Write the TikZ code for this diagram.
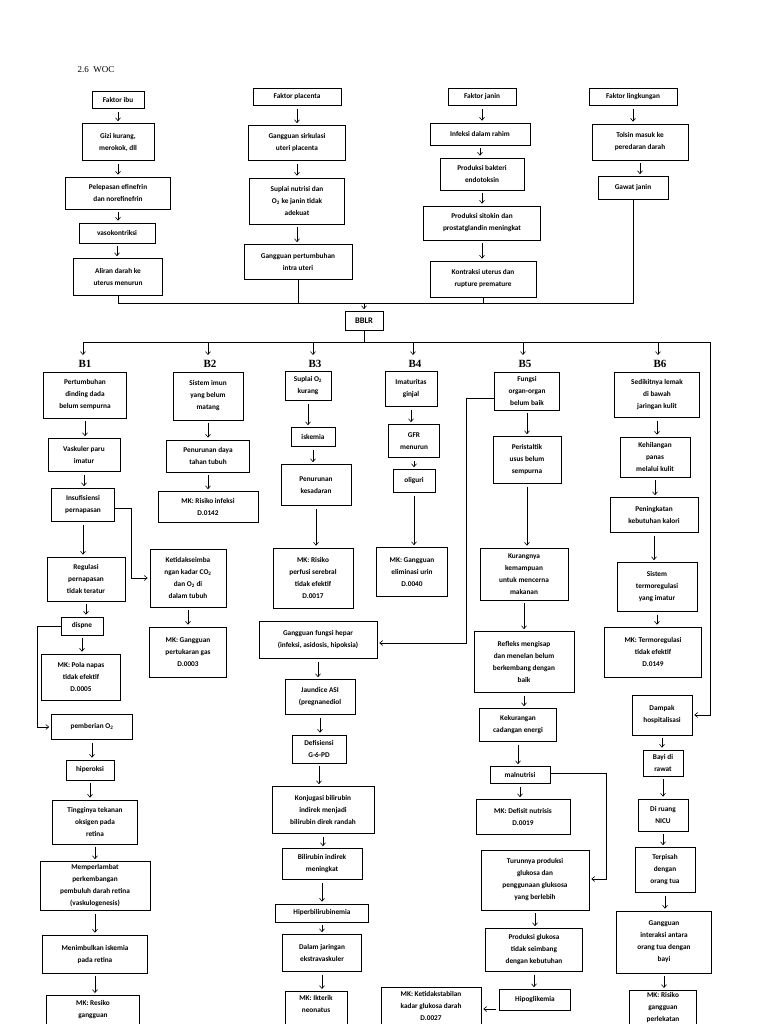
\documentclass[tikz,border=0pt]{standalone}
\usepackage{fontspec}
\setmainfont{Liberation Serif}
\newfontfamily\bxfont{Carlito}
\usetikzlibrary{arrows.meta}
\newcommand{\Bx}[6]{\node[box,minimum width=#4,minimum height=#5] (#1) at (#2,#3) {#6};}
\newcommand{\Ar}[2]{\draw[arr] (#1.south) -- (#1.south |- #2.north);}
\newcommand{\sub}[1]{\textsubscript{#1}}
\begin{document}
\begin{tikzpicture}[x=1pt,y=-1pt,
  box/.style={draw,line width=0.6pt,align=center,inner sep=1pt,font=\bxfont\bfseries\fontsize{7.3}{12}\selectfont},
  arr/.style={-{Straight Barb[length=3pt,width=5pt]},line width=0.6pt,shorten >=2pt,shorten <=3pt},
  ln/.style={line width=0.6pt},
  blab/.style={font=\bfseries\fontsize{11}{12}\selectfont}]
\useasboundingbox (0,0) rectangle (768,1024);
\fill[white] (0,0) rectangle (768,1024);
\node[font=\fontsize{9}{10}\selectfont] (woc) at (96,70) {2.6\ \ WOC};
% top row
\Bx{fi}{118}{100}{52}{17}{Faktor ibu}
\Bx{fp}{297}{97}{88}{17}{Faktor placenta}
\Bx{fj}{482}{97}{68}{17}{Faktor janin}
\Bx{fl}{633}{97}{88}{17}{Faktor lingkungan}
\Bx{a1}{118}{142}{72}{37}{Gizi kurang,\\merokok, dll}
\Bx{a2}{118}{193}{105}{32}{Pelepasan efinefrin\\dan norefinefrin}
\Bx{a3}{117}{233}{76}{20}{vasokontriksi}
\Bx{a4}{118}{277}{89}{37}{Aliran darah ke\\uterus menurun}
\Bx{p1}{297}{143}{97}{35}{Gangguan sirkulasi\\uteri placenta}
\Bx{p2}{297}{201}{95}{46}{Suplai nutrisi dan\\O\sub{2} ke janin tidak\\adekuat}
\Bx{p3}{298}{262}{108}{35}{Gangguan pertumbuhan\\intra uteri}
\Bx{j1}{480}{134}{100}{22}{Infeksi dalam rahim}
\Bx{j2}{482}{174}{84}{32}{Produksi bakteri\\endotoksin}
\Bx{j3}{482}{223}{117}{34}{Produksi sitokin dan\\prostatglandin meningkat}
\Bx{j4}{483}{279}{106}{36}{Kontraksi uterus dan\\rupture premature}
\Bx{l1}{640}{142}{96}{36}{Tolsin masuk ke\\peredaran darah}
\Bx{l2}{633}{188}{70}{23}{Gawat janin}
\foreach \u/\v in {fi/a1,a1/a2,a2/a3,a3/a4,fp/p1,p1/p2,p2/p3,fj/j1,j1/j2,j2/j3,j3/j4,fl/l1,l1/l2} {\Ar{\u}{\v}}
\Bx{bblr}{364}{321}{38}{19}{\fontsize{8.5}{10}\selectfont BBLR}
\coordinate (h1) at (118,303);
\coordinate (h2) at (633,303);
\draw[ln] (a4.south) -- (h1) -- (h2) -- (l2.south);
\draw[ln] (p3.south) -- (p3.south |- h1);
\draw[ln] (j4.south) -- (j4.south |- h1);
\draw[arr,shorten <=0pt] (bblr.north |- h1) -- (bblr.north);
\coordinate (g1) at (83,342);
\coordinate (g2) at (710,342);
\draw[ln] (bblr.south) -- (bblr.south |- g1);
\draw[ln] (g1) -- (g2);
\foreach \xx/\lab in {83/B1,208/B2,313/B3,413/B4,523/B5,658/B6} {
  \draw[arr,shorten <=0pt] (\xx,342) -- (\xx,357);
  \node[blab] (lab\lab) at (\xx+2,364) {\lab};
}
% B1
\Bx{b11}{85}{395}{83}{46}{Pertumbuhan\\dinding dada\\belum sempurna}
\Bx{b12}{84}{455}{72}{33}{Vaskuler paru\\imatur}
\Bx{b13}{83}{505}{63}{33}{Insufisiensi\\pernapasan}
\Bx{b14}{86}{579}{78}{44}{Regulasi\\pernapasan\\tidak teratur}
\Bx{b15}{82}{626}{42}{18}{dispne}
\Bx{b16}{81}{677}{79}{46}{MK: Pola napas\\tidak efektif\\D.0005}
\Bx{b17}{92}{727}{81}{25}{pemberian O\sub{2}}
\Bx{b18}{90}{770}{48}{20}{hiperoksi}
\Bx{b19}{95}{822}{85}{44}{Tingginya tekanan\\oksigen pada\\retina}
\Bx{b110}{95}{886}{110}{49}{Memperlambat\\perkembangan\\pembuluh darah retina\\(vaskulogenesis)}
\Bx{b111}{95}{954}{105}{38}{Menimbulkan iskemia\\pada retina}
\node[box,minimum width=93,minimum height=50,anchor=north,text depth=22pt] (b112) at (93,995) {MK: Resiko\\gangguan};
\foreach \u/\v in {b11/b12,b12/b13,b13/b14,b14/b15,b15/b16,b17/b18,b18/b19,b19/b110,b110/b111,b111/b112} {\Ar{\u}{\v}}
% B2
\Bx{b21}{208}{396}{70}{48}{Sistem imun\\yang belum\\matang}
\Bx{b22}{208}{456}{83}{32}{Penurunan daya\\tahan tubuh}
\Bx{b23}{208}{507}{100}{31}{MK: Risiko infeksi\\D.0142}
\Bx{b24}{188}{578}{76}{58}{Ketidakseimba\\ngan kadar CO\sub{2}\\dan O\sub{2} di\\dalam tubuh}
\Bx{b25}{188}{652}{77}{50}{MK: Gangguan\\pertukaran gas\\D.0003}
\foreach \u/\v in {b21/b22,b22/b23,b24/b25} {\Ar{\u}{\v}}
\coordinate (c1) at (131,508);
\draw[arr,shorten <=0pt] (b13.east |- c1) -- (c1) -- (131,578) -- (b24.west |- 0,578);
\coordinate (c2) at (37,626);
\draw[arr,shorten <=0pt] (b15.west) -- (c2) -- (37,727) -- (b17.west);
% B3
\Bx{b31}{308}{386}{46}{29}{Suplai O\sub{2}\\kurang}
\Bx{b32}{313}{437}{44}{19}{iskemia}
\Bx{b33}{316}{485}{70}{41}{Penurunan\\kesadaran}
\Bx{b34}{313}{578}{80}{60}{MK: Risiko\\perfusi serebral\\tidak efektif\\D.0017}
\Bx{b35}{318}{640}{118}{37}{Gangguan fungsi hepar\\(infeksi, asidosis, hipoksia)}
\Bx{b36}{320}{697}{70}{35}{Jaundice ASI\\(pregnanediol}
\Bx{b37}{319}{749}{54}{28}{Defisiensi\\G-6-PD}
\Bx{b38}{323}{810}{102}{47}{Konjugasi bilirubin\\indirek menjadi\\bilirubin direk randah}
\Bx{b39}{322}{864}{80}{31}{Bilirubin indirek\\meningkat}
\Bx{b310}{322}{913}{93}{18}{Hiperbilirubinemia}
\Bx{b311}{322}{953}{79}{37}{Dalam jaringan\\ekstravaskuler}
\node[box,minimum width=62,minimum height=40,anchor=north,text depth=14pt] (b312) at (316,991) {MK: Ikterik\\neonatus};
\foreach \u/\v in {b31/b32,b32/b33,b33/b34,b35/b36,b36/b37,b37/b38,b38/b39,b39/b310,b310/b311,b311/b312} {\Ar{\u}{\v}}
% B4
\Bx{b41}{411}{389}{52}{35}{Imaturitas\\ginjal}
\Bx{b42}{414}{441}{51}{33}{GFR\\menurun}
\Bx{b43}{414}{481}{42}{23}{oliguri}
\Bx{b44}{412}{572}{71}{49}{MK: Gangguan\\eliminasi urin\\D.0040}
\foreach \u/\v in {b41/b42,b42/b43,b43/b44} {\Ar{\u}{\v}}
% B5
\Bx{b51}{527}{391}{65}{38}{Fungsi\\organ-organ\\belum baik}
\Bx{b52}{527}{460}{68}{47}{Peristaltik\\usus belum\\sempurna}
\Bx{b53}{524}{574}{88}{52}{Kurangnya\\kemampuan\\untuk mencerna\\makanan}
\Bx{b54}{524}{662}{100}{61}{Refleks mengisap\\dan menelan belum\\berkembang dengan\\baik}
\Bx{b55}{518}{725}{77}{33}{Kekurangan\\cadangan energi}
\Bx{b56}{520}{775}{60}{17}{malnutrisi}
\Bx{b57}{523}{817}{94}{35}{MK: Defisit nutrisis\\D.0019}
\Bx{b58}{535}{880}{108}{60}{Turunnya produksi\\glukosa dan\\penggunaan gluksosa\\yang berlebih}
\Bx{b59}{534}{950}{97}{43}{Produksi glukosa\\tidak seimbang\\dengan kebutuhan}
\Bx{b510}{535}{1000}{71}{21}{Hipoglikemia}
\Bx{b511}{431}{1006}{100}{38}{MK: Ketidakstabilan\\kadar glukosa darah\\D.0027}
\foreach \u/\v in {b51/b52,b52/b53,b53/b54,b54/b55,b55/b56,b56/b57,b58/b59,b59/b510} {\Ar{\u}{\v}}
\draw[arr] (b510.west |- 0,1009) -- (b511.east |- 0,1009);
\coordinate (c3) at (606,773);
\draw[arr,shorten <=0pt] (b56.east |- c3) -- (c3) -- (606,879) -- (b58.east |- 0,879);
\coordinate (c4) at (466,398);
\draw[arr,shorten <=0pt] (b51.west |- c4) -- (c4) -- (466,643) -- (b35.east |- 0,643);
% B6
\Bx{b61}{657}{395}{85}{45}{Sedikitnya lemak\\di bawah\\jaringan kulit}
\Bx{b62}{655}{457}{70}{40}{Kehilangan\\panas\\melalui kulit}
\Bx{b63}{654}{515}{88}{35}{Peningkatan\\kebutuhan kalori}
\Bx{b64}{657}{587}{80}{49}{Sistem\\termoregulasi\\yang imatur}
\Bx{b65}{653}{652}{97}{50}{MK: Termoregulasi\\tidak efektif\\D.0149}
\Bx{b66}{662}{715}{60}{40}{Dampak\\hospitalisasi}
\Bx{b67}{663}{763}{40}{26}{Bayi di\\rawat}
\Bx{b68}{663}{815}{50}{32}{Di ruang\\NICU}
\Bx{b69}{665}{870}{60}{45}{Terpisah\\dengan\\orang tua}
\Bx{b610}{664}{942}{95}{62}{Gangguan\\interaksi antara\\orang tua dengan\\bayi}
\node[box,minimum width=67,minimum height=48,anchor=north,text depth=14pt] (b611) at (663,990) {MK: Risiko\\gangguan\\perlekatan};
\foreach \u/\v in {b61/b62,b62/b63,b63/b64,b64/b65,b66/b67,b67/b68,b68/b69,b69/b610,b610/b611} {\Ar{\u}{\v}}
\draw[arr,shorten <=0pt] (g2) -- (710,715) -- (b66.east);
\end{tikzpicture}
\end{document}
